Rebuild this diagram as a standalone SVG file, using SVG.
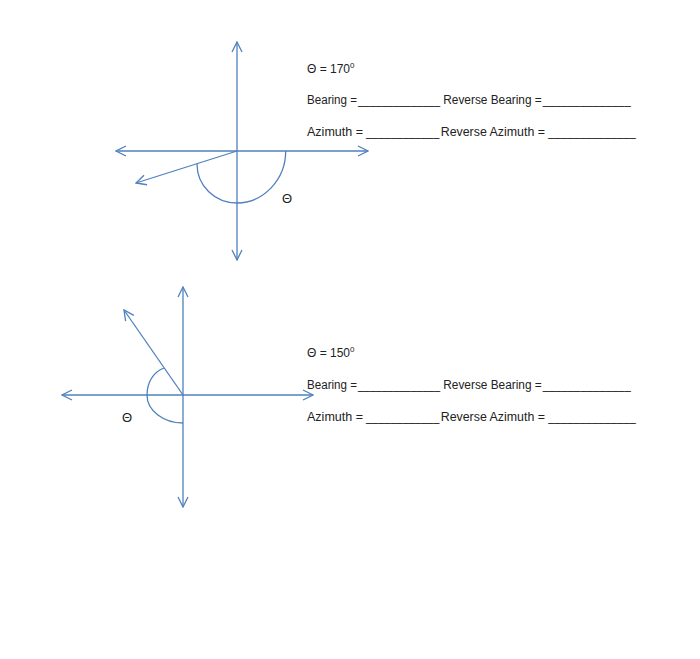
<svg xmlns="http://www.w3.org/2000/svg" width="700" height="659" viewBox="0 0 700 659">
<style>
.ln{stroke:#4f81bd;stroke-width:1.3;fill:none}
.ar{marker-end:url(#ah)}
.ar2{marker-start:url(#ah);marker-end:url(#ah)}
text{font-family:"Liberation Sans",Arial,sans-serif;font-size:12px;fill:#222}
.th{font-size:13px}
</style>
<defs>
<marker id="ah" viewBox="0 0 12 12" refX="11" refY="6" markerWidth="12" markerHeight="12" markerUnits="userSpaceOnUse" orient="auto-start-reverse">
<path d="M1,1 L11,6 L1,11" fill="none" stroke="#4f81bd" stroke-width="1.3"/>
</marker>
</defs>
<rect width="700" height="659" fill="#fff"/>
<g id="connectors">
<line class="ln ar2" x1="237" y1="42" x2="237" y2="260"/>
<line class="ln ar2" x1="116" y1="151" x2="368" y2="151"/>
<line class="ln ar" x1="237" y1="151" x2="136" y2="183"/>
<path class="ln" d="M285.7,151 C285.7,180 263,203 237,203 C215,203 197,186 197,164"/>
<line class="ln ar2" x1="183" y1="287" x2="183" y2="507"/>
<line class="ln ar2" x1="62" y1="395" x2="313" y2="395"/>
<line class="ln ar" x1="183" y1="395" x2="124" y2="310"/>
<path class="ln" d="M164,368 C153,372 147,383 147,395 C147,411 164,423 183,423"/>
</g>
<g id="node-theta1"><text class="th" x="287" y="203" text-anchor="middle">Θ</text></g>
<g id="node-theta2"><text class="th" x="127" y="422" text-anchor="middle">Θ</text></g>
<g id="node-text1">
<text x="307" y="72.5">Θ = 170<tspan font-size="8" dy="-5">0</tspan></text>
<text x="307" y="103.5" textLength="50" lengthAdjust="spacingAndGlyphs">Bearing =</text>
<text x="358" y="103.5" textLength="82" lengthAdjust="spacingAndGlyphs">______________</text>
<text x="443.3" y="103.5" textLength="98.4" lengthAdjust="spacingAndGlyphs">Reverse Bearing =</text>
<text x="542.7" y="103.5" textLength="88" lengthAdjust="spacingAndGlyphs">______________</text>
<text x="307" y="135.5" textLength="56" lengthAdjust="spacingAndGlyphs">Azimuth =</text>
<text x="366" y="135.5" textLength="73.3" lengthAdjust="spacingAndGlyphs">____________</text>
<text x="440.7" y="135.5" textLength="104.3" lengthAdjust="spacingAndGlyphs">Reverse Azimuth =</text>
<text x="548.3" y="135.5" textLength="87.4" lengthAdjust="spacingAndGlyphs">______________</text>
</g>
<g id="node-text2">
<text x="307" y="357">Θ = 150<tspan font-size="8" dy="-5">0</tspan></text>
<text x="307" y="389" textLength="50" lengthAdjust="spacingAndGlyphs">Bearing =</text>
<text x="358" y="389" textLength="82" lengthAdjust="spacingAndGlyphs">______________</text>
<text x="443.3" y="389" textLength="98.4" lengthAdjust="spacingAndGlyphs">Reverse Bearing =</text>
<text x="542.7" y="389" textLength="88" lengthAdjust="spacingAndGlyphs">______________</text>
<text x="307" y="420.5" textLength="56" lengthAdjust="spacingAndGlyphs">Azimuth =</text>
<text x="366" y="420.5" textLength="73.3" lengthAdjust="spacingAndGlyphs">____________</text>
<text x="440.7" y="420.5" textLength="104.3" lengthAdjust="spacingAndGlyphs">Reverse Azimuth =</text>
<text x="548.3" y="420.5" textLength="87.4" lengthAdjust="spacingAndGlyphs">______________</text>
</g>
</svg>
